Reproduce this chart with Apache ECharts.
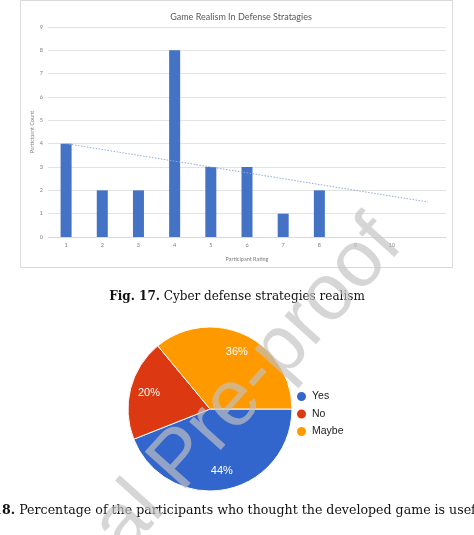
<!DOCTYPE html>
<html>
<head>
<meta charset="utf-8">
<script src="https://cdn.jsdelivr.net/npm/echarts@6/dist/echarts.min.js"></script>
<style>
  html, body { margin: 0; padding: 0; background: #fff; }
  #main { width: 474px; height: 535px; }
</style>
</head>
<body>
<div id="main"></div>
<script>
// bar chart data
const ratings = ['1', '2', '3', '4', '5', '6', '7', '8', '9', '10', ''];
const counts = [4, 2, 2, 8, 3, 3, 1, 2, 0, 0, null];
const yTicks = [0, 9, 1]; // min, max, interval
// trend line end points: [category index, value]
const trendPoints = [[0, 4], [10, 1.5]];

// pie data
const answers = ['Yes', 'No', 'Maybe'];
const shares = [44, 20, 36];
const pieColors = ['#3366cc', '#dc3912', '#ff9900'];

const chart = echarts.init(document.getElementById('main'));

const pieData = answers.map(function (name, i) {
  return { name: name, value: shares[i], itemStyle: { color: pieColors[i] } };
});

const option = {
  animation: false,
  title: {
    text: 'Game Realism In Defense Stratagies',
    left: 236,
    textAlign: 'center',
    top: 8,
    textStyle: { fontFamily: 'Lato', fontSize: 9, fontWeight: 'normal', color: '#595959' }
  },
  grid: { left: 48, right: 28, top: 27, bottom: 298 },
  xAxis: {
    type: 'category',
    data: ratings,
    name: 'Participant Rating',
    nameLocation: 'middle',
    nameGap: 19,
    nameTextStyle: { fontFamily: 'Lato', fontSize: 5.5, color: '#7f7f7f' },
    axisLine: { lineStyle: { color: '#d9d9d9' } },
    axisTick: { show: false },
    axisLabel: { fontFamily: 'Lato', fontSize: 5.5, color: '#7f7f7f', margin: 5 }
  },
  yAxis: {
    type: 'value',
    min: yTicks[0],
    max: yTicks[1],
    interval: yTicks[2],
    name: 'Participant Count',
    nameLocation: 'middle',
    nameRotate: 90,
    nameGap: 13,
    nameMoveOverlap: false,
    nameTextStyle: { fontFamily: 'Lato', fontSize: 5.5, color: '#7f7f7f' },
    axisLabel: { fontFamily: 'Lato', fontSize: 5.5, color: '#7f7f7f', margin: 5 },
    splitLine: { lineStyle: { color: '#e3e3e3' } }
  },
  legend: {
    data: answers,
    orient: 'vertical',
    left: 290,
    top: 385,
    icon: 'circle',
    itemWidth: 11,
    itemHeight: 11,
    itemGap: 4.5,
    textStyle: { fontFamily: 'Liberation Sans', fontSize: 10.5, color: '#222' }
  },
  series: [
    {
      type: 'bar',
      data: counts,
      barWidth: 11,
      itemStyle: { color: '#4472c4' }
    },
    {
      type: 'line',
      data: trendPoints,
      symbol: 'none',
      lineStyle: { color: '#8fa9d8', width: 1, type: [1.5, 1.5] },
      z: 3
    },
    {
      type: 'pie',
      center: [210, 409],
      radius: 82,
      startAngle: 0,
      clockwise: true,
      data: pieData,
      itemStyle: { borderColor: '#fff', borderWidth: 1 },
      label: { show: false },
      emphasis: { disabled: true }
    },
    {
      // label ring so the percentages sit out near the rim
      type: 'pie',
      center: [210, 409],
      radius: [38, 82],
      startAngle: 0,
      clockwise: true,
      silent: true,
      data: answers.map(function (name, i) { return { name: name, value: shares[i] }; }),
      itemStyle: { color: 'rgba(0,0,0,0)' },
      label: {
        position: 'inside',
        formatter: '{d}%',
        color: '#fff',
        fontFamily: 'Liberation Sans',
        fontSize: 11
      },
      labelLine: { show: false }
    }
  ],
  graphic: [
    {
      type: 'rect',
      shape: { x: 20.5, y: 0.5, width: 432, height: 267 },
      style: { fill: 'none', stroke: '#d9d9d9', lineWidth: 1 },
      z: -1
    },
    {
      type: 'text',
      x: 237,
      y: 297,
      style: {
        text: '{b|Fig. 17.} Cyber defense strategies realism',
        textAlign: 'center',
        textVerticalAlign: 'middle',
        fontFamily: 'DejaVu Serif',
        fontSize: 12,
        fill: '#111',
        rich: { b: { fontWeight: 'bold', fontFamily: 'DejaVu Serif', fontSize: 12, fill: '#111' } }
      }
    },
    {
      type: 'text',
      x: -38,
      y: 511,
      style: {
        text: '{b|Fig. 18.} Percentage of the participants who thought the developed game is useful',
        textAlign: 'left',
        textVerticalAlign: 'middle',
        fontFamily: 'DejaVu Serif',
        fontSize: 12.6,
        fill: '#111',
        rich: { b: { fontWeight: 'bold', fontFamily: 'DejaVu Serif', fontSize: 12.6, fill: '#111' } }
      }
    },
    {
      type: 'text',
      x: 388,
      y: 231,
      rotation: 48 * Math.PI / 180,
      z: 100,
      silent: true,
      style: {
        text: 'Journal Pre-proof',
        textAlign: 'right',
        textVerticalAlign: 'middle',
        fontFamily: 'Liberation Sans',
        fontSize: 80,
        fill: 'rgba(194,194,194,0.67)'
      }
    }
  ]
};

chart.setOption(option);
</script>
</body>
</html>
